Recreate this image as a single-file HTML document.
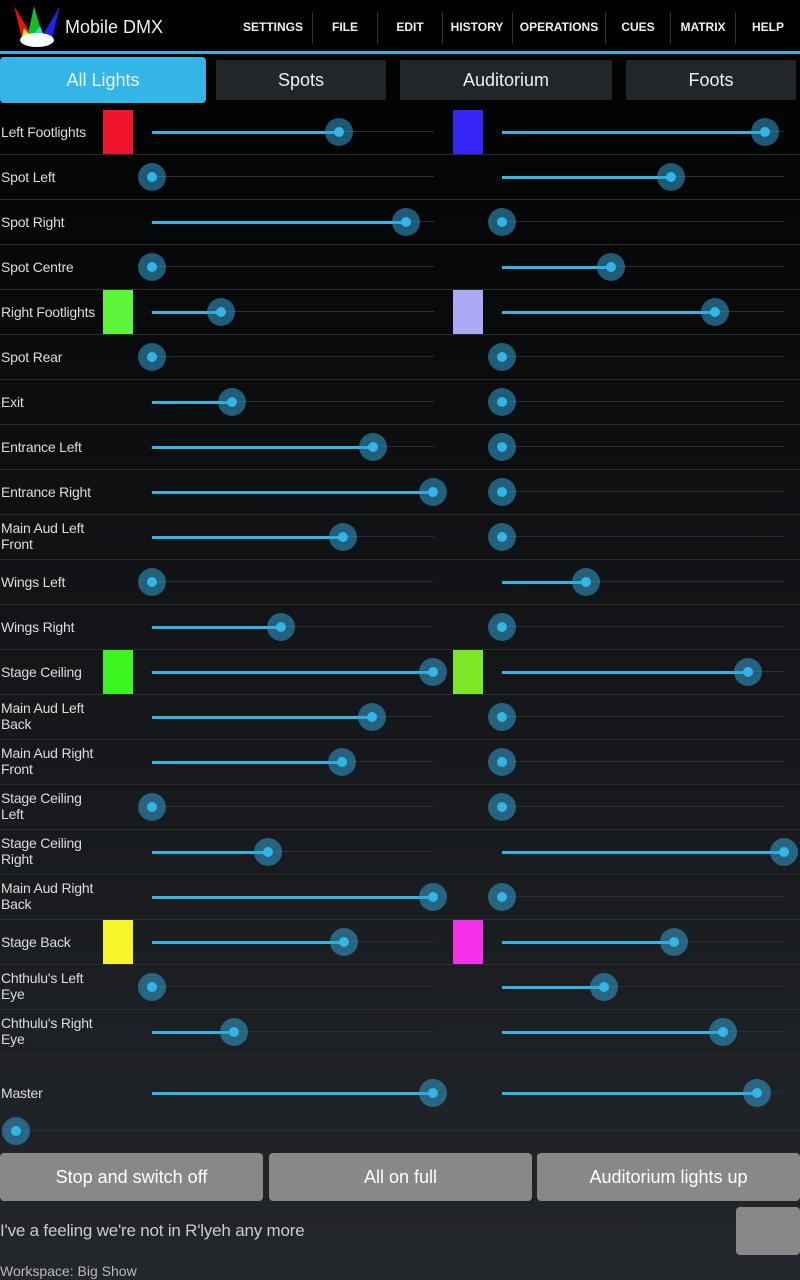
<!DOCTYPE html>
<html><head><meta charset="utf-8"><style>
*{margin:0;padding:0;box-sizing:border-box}
body{width:800px;height:1280px;overflow:hidden;font-family:"Liberation Sans",sans-serif;background:linear-gradient(#000 0px,#050607 200px,#15171a 700px,#23262b 1280px);position:relative;color:#ddd}
.hd{position:absolute;left:0;top:0;width:800px;height:54px;background:#000;border-bottom:3px solid #33b5e5}
.mi{position:absolute;top:20px;font-size:12px;font-weight:bold;color:#eee;transform:translateX(-50%)}
.dv{position:absolute;top:12px;width:1px;height:32px;background:#333}
.tab{position:absolute;top:60px;height:40px;background:#222529;color:#eee;font-size:18px;text-align:center;line-height:40px;border-radius:2px}
.r{position:absolute;left:0;width:800px;height:45px;border-bottom:1px solid #2a2c30}
.l{position:absolute;left:1px;top:14px;font-size:14px;color:#ddd;letter-spacing:-0.2px}
.l2{top:5px;line-height:16px}
.sw{position:absolute;top:0;width:30px;height:44px}
.tr{position:absolute;top:21px;width:282px;height:1px;background:#2c2e32}
.a{position:absolute;top:21px;height:3px;background:#33b5e5}
.th{position:absolute;top:8px;width:28px;height:28px;border-radius:50%;background:rgba(51,160,210,0.55)}
.th::after{content:"";position:absolute;left:9px;top:9px;width:10px;height:10px;border-radius:50%;background:#33b5e5}
.btn{position:absolute;top:1153px;height:48px;background:#888;border-radius:4px;color:#fff;font-size:18px;text-align:center;line-height:48px}
</style></head><body>
<div class="hd">
<svg style="position:absolute;left:12px;top:4px" width="50" height="44" viewBox="0 0 50 44">
<polygon points="2,2 20,32 10,34" fill="#f01010"/>
<polygon points="22,2 16,30 30,30" fill="#10c020"/>
<polygon points="48,2 30,32 40,34" fill="#2020f0"/>
<polygon points="12,24 18,32 10,34" fill="#f0f020"/>
<polygon points="28,22 32,32 22,30" fill="#20e0e0"/>
<ellipse cx="25" cy="36" rx="17" ry="7" fill="#fff"/>
</svg>
<div style="position:absolute;left:65px;top:17px;font-size:18px;color:#eee">Mobile DMX</div>
<div class="mi" style="left:273px">SETTINGS</div><div class="dv" style="left:312px"></div>
<div class="mi" style="left:345px">FILE</div><div class="dv" style="left:377px"></div>
<div class="mi" style="left:410px">EDIT</div><div class="dv" style="left:442px"></div>
<div class="mi" style="left:477px">HISTORY</div><div class="dv" style="left:512px"></div>
<div class="mi" style="left:559px">OPERATIONS</div><div class="dv" style="left:605px"></div>
<div class="mi" style="left:638px">CUES</div><div class="dv" style="left:670px"></div>
<div class="mi" style="left:703px">MATRIX</div><div class="dv" style="left:735px"></div>
<div class="mi" style="left:768px">HELP</div>
</div>
<div class="tab" style="left:0;top:57px;height:46px;line-height:46px;width:206px;background:#33b5e5;border-radius:4px">All Lights</div>
<div class="tab" style="left:216px;width:170px">Spots</div>
<div class="tab" style="left:400px;width:212px">Auditorium</div>
<div class="tab" style="left:626px;width:170px">Foots</div>

<div class="r" style="top:110px"><div class="l">Left Footlights</div><div class="sw" style="left:103px;background:#f0142d"></div><div class="sw" style="left:453px;background:#3626f5"></div><div class="tr" style="left:152px"></div><div class="a" style="left:152px;width:187px"></div><div class="th" style="left:325px"></div><div class="tr" style="left:502px"></div><div class="a" style="left:502px;width:263px"></div><div class="th" style="left:751px"></div></div>
<div class="r" style="top:155px"><div class="l">Spot Left</div><div class="tr" style="left:152px"></div><div class="th" style="left:138px"></div><div class="tr" style="left:502px"></div><div class="a" style="left:502px;width:169px"></div><div class="th" style="left:657px"></div></div>
<div class="r" style="top:200px"><div class="l">Spot Right</div><div class="tr" style="left:152px"></div><div class="a" style="left:152px;width:254px"></div><div class="th" style="left:392px"></div><div class="tr" style="left:502px"></div><div class="th" style="left:488px"></div></div>
<div class="r" style="top:245px"><div class="l">Spot Centre</div><div class="tr" style="left:152px"></div><div class="th" style="left:138px"></div><div class="tr" style="left:502px"></div><div class="a" style="left:502px;width:109px"></div><div class="th" style="left:597px"></div></div>
<div class="r" style="top:290px"><div class="l">Right Footlights</div><div class="sw" style="left:103px;background:#5cf53a"></div><div class="sw" style="left:453px;background:#aaaaf5"></div><div class="tr" style="left:152px"></div><div class="a" style="left:152px;width:69px"></div><div class="th" style="left:207px"></div><div class="tr" style="left:502px"></div><div class="a" style="left:502px;width:213px"></div><div class="th" style="left:701px"></div></div>
<div class="r" style="top:335px"><div class="l">Spot Rear</div><div class="tr" style="left:152px"></div><div class="th" style="left:138px"></div><div class="tr" style="left:502px"></div><div class="th" style="left:488px"></div></div>
<div class="r" style="top:380px"><div class="l">Exit</div><div class="tr" style="left:152px"></div><div class="a" style="left:152px;width:80px"></div><div class="th" style="left:218px"></div><div class="tr" style="left:502px"></div><div class="th" style="left:488px"></div></div>
<div class="r" style="top:425px"><div class="l">Entrance Left</div><div class="tr" style="left:152px"></div><div class="a" style="left:152px;width:221px"></div><div class="th" style="left:359px"></div><div class="tr" style="left:502px"></div><div class="th" style="left:488px"></div></div>
<div class="r" style="top:470px"><div class="l">Entrance Right</div><div class="tr" style="left:152px"></div><div class="a" style="left:152px;width:281px"></div><div class="th" style="left:419px"></div><div class="tr" style="left:502px"></div><div class="th" style="left:488px"></div></div>
<div class="r" style="top:515px"><div class="l l2">Main Aud Left<br>Front</div><div class="tr" style="left:152px"></div><div class="a" style="left:152px;width:191px"></div><div class="th" style="left:329px"></div><div class="tr" style="left:502px"></div><div class="th" style="left:488px"></div></div>
<div class="r" style="top:560px"><div class="l">Wings Left</div><div class="tr" style="left:152px"></div><div class="th" style="left:138px"></div><div class="tr" style="left:502px"></div><div class="a" style="left:502px;width:84px"></div><div class="th" style="left:572px"></div></div>
<div class="r" style="top:605px"><div class="l">Wings Right</div><div class="tr" style="left:152px"></div><div class="a" style="left:152px;width:129px"></div><div class="th" style="left:267px"></div><div class="tr" style="left:502px"></div><div class="th" style="left:488px"></div></div>
<div class="r" style="top:650px"><div class="l">Stage Ceiling</div><div class="sw" style="left:103px;background:#3cf51e"></div><div class="sw" style="left:453px;background:#7ee626"></div><div class="tr" style="left:152px"></div><div class="a" style="left:152px;width:281px"></div><div class="th" style="left:419px"></div><div class="tr" style="left:502px"></div><div class="a" style="left:502px;width:246px"></div><div class="th" style="left:734px"></div></div>
<div class="r" style="top:695px"><div class="l l2">Main Aud Left<br>Back</div><div class="tr" style="left:152px"></div><div class="a" style="left:152px;width:220px"></div><div class="th" style="left:358px"></div><div class="tr" style="left:502px"></div><div class="th" style="left:488px"></div></div>
<div class="r" style="top:740px"><div class="l l2">Main Aud Right<br>Front</div><div class="tr" style="left:152px"></div><div class="a" style="left:152px;width:190px"></div><div class="th" style="left:328px"></div><div class="tr" style="left:502px"></div><div class="th" style="left:488px"></div></div>
<div class="r" style="top:785px"><div class="l l2">Stage Ceiling<br>Left</div><div class="tr" style="left:152px"></div><div class="th" style="left:138px"></div><div class="tr" style="left:502px"></div><div class="th" style="left:488px"></div></div>
<div class="r" style="top:830px"><div class="l l2">Stage Ceiling<br>Right</div><div class="tr" style="left:152px"></div><div class="a" style="left:152px;width:116px"></div><div class="th" style="left:254px"></div><div class="tr" style="left:502px"></div><div class="a" style="left:502px;width:282px"></div><div class="th" style="left:770px"></div></div>
<div class="r" style="top:875px"><div class="l l2">Main Aud Right<br>Back</div><div class="tr" style="left:152px"></div><div class="a" style="left:152px;width:281px"></div><div class="th" style="left:419px"></div><div class="tr" style="left:502px"></div><div class="th" style="left:488px"></div></div>
<div class="r" style="top:920px"><div class="l">Stage Back</div><div class="sw" style="left:103px;background:#f5f52a"></div><div class="sw" style="left:453px;background:#f530e8"></div><div class="tr" style="left:152px"></div><div class="a" style="left:152px;width:192px"></div><div class="th" style="left:330px"></div><div class="tr" style="left:502px"></div><div class="a" style="left:502px;width:172px"></div><div class="th" style="left:660px"></div></div>
<div class="r" style="top:965px"><div class="l l2">Chthulu's Left<br>Eye</div><div class="tr" style="left:152px"></div><div class="th" style="left:138px"></div><div class="tr" style="left:502px"></div><div class="a" style="left:502px;width:102px"></div><div class="th" style="left:590px"></div></div>
<div class="r" style="top:1010px"><div class="l l2">Chthulu's Right<br>Eye</div><div class="tr" style="left:152px"></div><div class="a" style="left:152px;width:82px"></div><div class="th" style="left:220px"></div><div class="tr" style="left:502px"></div><div class="a" style="left:502px;width:221px"></div><div class="th" style="left:709px"></div></div>

<div style="position:absolute;left:0;top:1071px;width:800px;height:45px">
<div class="l" style="top:14px">Master</div><div class="tr" style="left:152px"></div><div class="a" style="left:152px;width:281px"></div><div class="th" style="left:419px"></div><div class="tr" style="left:502px"></div><div class="a" style="left:502px;width:255px"></div><div class="th" style="left:743px"></div></div>
<div style="position:absolute;left:0;top:1109px;width:800px;height:45px">
<div class="tr" style="left:16px;width:784px"></div><div class="th" style="left:2px"></div></div>

<div class="btn" style="left:0;width:263px">Stop and switch off</div>
<div class="btn" style="left:269px;width:263px">All on full</div>
<div class="btn" style="left:537px;width:263px">Auditorium lights up</div>
<div style="position:absolute;left:0;top:1221px;font-size:17px;letter-spacing:-0.2px;color:#ccc">I've a feeling we're not in R'lyeh any more</div>
<div style="position:absolute;left:736px;top:1207px;width:64px;height:48px;background:#888;border-radius:4px"></div>
<div style="position:absolute;left:0;top:1263px;font-size:14px;color:#bbb">Workspace: Big Show</div>
</body></html>
